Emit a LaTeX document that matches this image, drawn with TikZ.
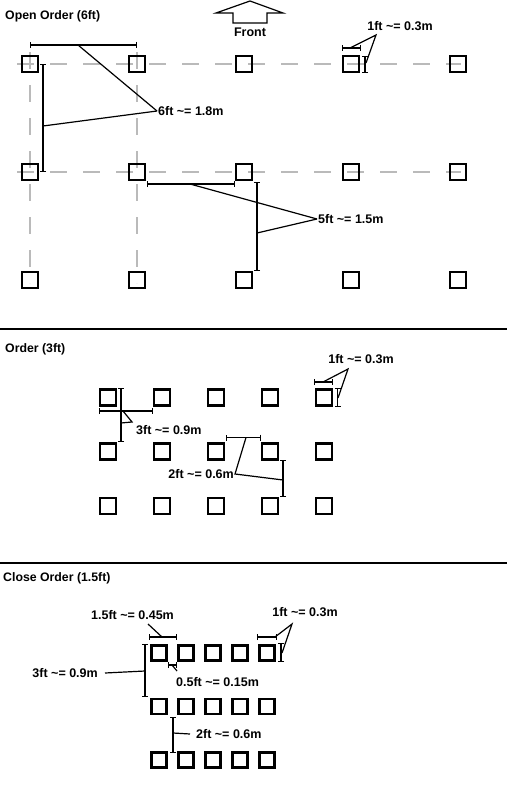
\documentclass[tikz,border=0pt]{standalone}
\usepackage{fontspec}
\setmainfont{Liberation Sans}
\usetikzlibrary{arrows.meta,positioning}

\begin{document}
\begin{tikzpicture}[x=1pt, y=-1pt,
    box/.style={draw, line width=2.6pt, minimum size=16pt, inner sep=0pt},
    minibox/.style={box, minimum size=15pt},
    guide/.style={draw=black!27, line width=1.3pt, dash pattern=on 17pt off 16pt},
    dim/.style={{Bar[width=6pt]}-{Bar[width=6pt]}, line width=1.2pt},
    lead/.style={line width=1.2pt},
    lbl/.style={font=\bfseries\fontsize{12.5}{14}\selectfont, inner sep=1pt},
    head/.style={font=\bfseries\fontsize{12.3}{14}\selectfont, inner sep=1pt, anchor=west}]
    \useasboundingbox (0,0) rectangle (507,800);

    % Open Order
    \node[head] (open) at (4,16) {Open Order (6ft)};
    \draw[line width=1.2pt] (250,1) -- (283,13) -- (267,13) -- (267,23)
        -- (233,23) -- (233,13) -- (216,13) -- cycle;
    \node[lbl] (front) at (250,32) {Front};

    % Guides
    \coordinate (g1a) at (17,64);  \coordinate (g1b) at (461,64);
    \coordinate (g2a) at (17,172); \coordinate (g2b) at (461,172);
    \coordinate (g3a) at (30,52);  \coordinate (g3b) at (30,283);
    \coordinate (g4a) at (137,52); \coordinate (g4b) at (137,283);
    \draw[guide] (g1a) -- (g1b);
    \draw[guide] (g2a) -- (g2b);
    \draw[guide] (g3a) -- (g3b);
    \draw[guide] (g4a) -- (g4b);

    \foreach \x [count=\i] in {30,137,244,351,458}
      \foreach \y [count=\j] in {64,172,280}
        \node[box] (o\j\i) at (\x,\y) {};

    % 6ft
    \coordinate (h6a) at (30,45);  \coordinate (h6b) at (137,45);  \coordinate (h6m) at (78,45);
    \coordinate (v6a) at (43,64);  \coordinate (v6b) at (43,172);  \coordinate (v6m) at (43,126);
    \draw[dim] (h6a) -- (h6b);
    \draw[dim] (v6a) -- (v6b);
    \node[lbl, anchor=west] (six) at (157,111) {6ft \textasciitilde= 1.8m};
    \draw[lead] (h6m) -- (six.west);
    \draw[lead] (v6m) -- (six.west);

    % 5ft
    \coordinate (h5a) at (147,184); \coordinate (h5b) at (235,184); \coordinate (h5m) at (190,184);
    \coordinate (v5a) at (257,182); \coordinate (v5b) at (257,271); \coordinate (v5m) at (257,233);
    \draw[dim] (h5a) -- (h5b);
    \draw[dim] (v5a) -- (v5b);
    \node[lbl, anchor=west] (five) at (317,219) {5ft \textasciitilde= 1.5m};
    \draw[lead] (h5m) -- (five.west);
    \draw[lead] (v5m) -- (five.west);

    % 1ft
    \coordinate (h1a) at (342,48); \coordinate (h1b) at (361,48); \coordinate (h1m) at (350,48);
    \coordinate (v1a) at (365,56); \coordinate (v1b) at (365,73); \coordinate (v1m) at (366,63);
    \coordinate (p1) at (376,35);
    \draw[dim] (h1a) -- (h1b);
    \draw[dim] (v1a) -- (v1b);
    \node[lbl] (one) at (400,26) {1ft \textasciitilde= 0.3m};
    \draw[lead] (h1m) -- (p1) -- (v1m);

    % Order
    \coordinate (s1a) at (0,329); \coordinate (s1b) at (507,329);
    \draw[line width=2.5pt] (s1a) -- (s1b);
    \node[head] (order) at (4,349) {Order (3ft)};

    \foreach \x [count=\i] in {108,162,216,270,324}
      \foreach \y [count=\j] in {397.5,451.5,506}
        \node[box] (m\j\i) at (\x,\y) {};

    % 3ft
    \coordinate (h3a) at (99,411);  \coordinate (h3b) at (153,411); \coordinate (h3m) at (123,411);
    \coordinate (v3a) at (121,388); \coordinate (v3b) at (121,442); \coordinate (v3m) at (121,423);
    \coordinate (p3) at (132,422);
    \draw[dim] (h3a) -- (h3b);
    \draw[dim] (v3a) -- (v3b);
    \node[lbl, anchor=west] (three) at (135,430) {3ft \textasciitilde= 0.9m};
    \draw[lead] (h3m) -- (p3) -- (v3m);

    % 2ft
    \coordinate (h2a) at (226,437.5); \coordinate (h2b) at (261,437.5); \coordinate (h2m) at (246,437.5);
    \coordinate (v2a) at (283,460);   \coordinate (v2b) at (283,497);   \coordinate (v2m) at (283,480);
    \draw[dim] (h2a) -- (h2b);
    \draw[dim] (v2a) -- (v2b);
    \node[lbl, anchor=east] (two) at (235,474) {2ft \textasciitilde= 0.6m};
    \draw[lead] (h2m) -- (two.east) -- (v2m);

    % 1ft
    \coordinate (h1c) at (314,382); \coordinate (h1d) at (333,382); \coordinate (h1n) at (323,382);
    \coordinate (v1c) at (337.5,388); \coordinate (v1d) at (337.5,407); \coordinate (v1n) at (338,398);
    \coordinate (p2) at (348,369);
    \draw[dim] (h1c) -- (h1d);
    \draw[dim] (v1c) -- (v1d);
    \node[lbl] (oneb) at (361,359) {1ft \textasciitilde= 0.3m};
    \draw[lead] (h1n) -- (p2) -- (v1n);

    % Close Order
    \coordinate (s2a) at (0,563); \coordinate (s2b) at (507,563);
    \draw[line width=2.5pt] (s2a) -- (s2b);
    \node[head] (close) at (2,578) {Close Order (1.5ft)};

    \foreach \x [count=\i] in {159,186,213,240,267}
      \foreach \y [count=\j] in {653,706.5,760}
        \node[minibox] (c\j\i) at (\x,\y) {};

    % 1.5ft
    \coordinate (h15a) at (149,637); \coordinate (h15b) at (177,637); \coordinate (h15m) at (162,637);
    \coordinate (p15) at (148,624);
    \draw[dim] (h15a) -- (h15b);
    \node[lbl] (onehalf) at (132.5,615) {1.5ft \textasciitilde= 0.45m};
    \draw[lead] (h15m) -- (p15);

    % 3ft
    \coordinate (v3c) at (145,644); \coordinate (v3d) at (145,697); \coordinate (v3n) at (145,671);
    \draw[dim] (v3c) -- (v3d);
    \node[lbl, anchor=east] (threeb) at (99,673) {3ft \textasciitilde= 0.9m};
    \draw[lead] (v3n) -- ([xshift=6pt]threeb.east);

    % 0.5ft
    \coordinate (h05a) at (168,665); \coordinate (h05b) at (177,665); \coordinate (h05m) at (172,665);
    \coordinate (p05) at (177,671);
    \draw[dim] (h05a) -- (h05b);
    \node[lbl, anchor=west] (half) at (175,682) {0.5ft \textasciitilde= 0.15m};
    \draw[lead] (h05m) -- (p05);

    % 2ft
    \coordinate (v2c) at (173,717); \coordinate (v2d) at (173,753); \coordinate (v2n) at (173,733);
    \draw[dim] (v2c) -- (v2d);
    \node[lbl, anchor=west] (twob) at (195,734) {2ft \textasciitilde= 0.6m};
    \draw[lead] (v2n) -- ([xshift=-5pt]twob.west);

    % 1ft
    \coordinate (h1e) at (257,637); \coordinate (h1f) at (277,637); \coordinate (h1o) at (275,637);
    \coordinate (v1e) at (281,643); \coordinate (v1f) at (281,662); \coordinate (v1o) at (282,653);
    \coordinate (p4) at (292,624);
    \draw[dim] (h1e) -- (h1f);
    \draw[dim] (v1e) -- (v1f);
    \node[lbl] (onec) at (305,612) {1ft \textasciitilde= 0.3m};
    \draw[lead] (h1o) -- (p4) -- (v1o);
\end{tikzpicture}
\end{document}
